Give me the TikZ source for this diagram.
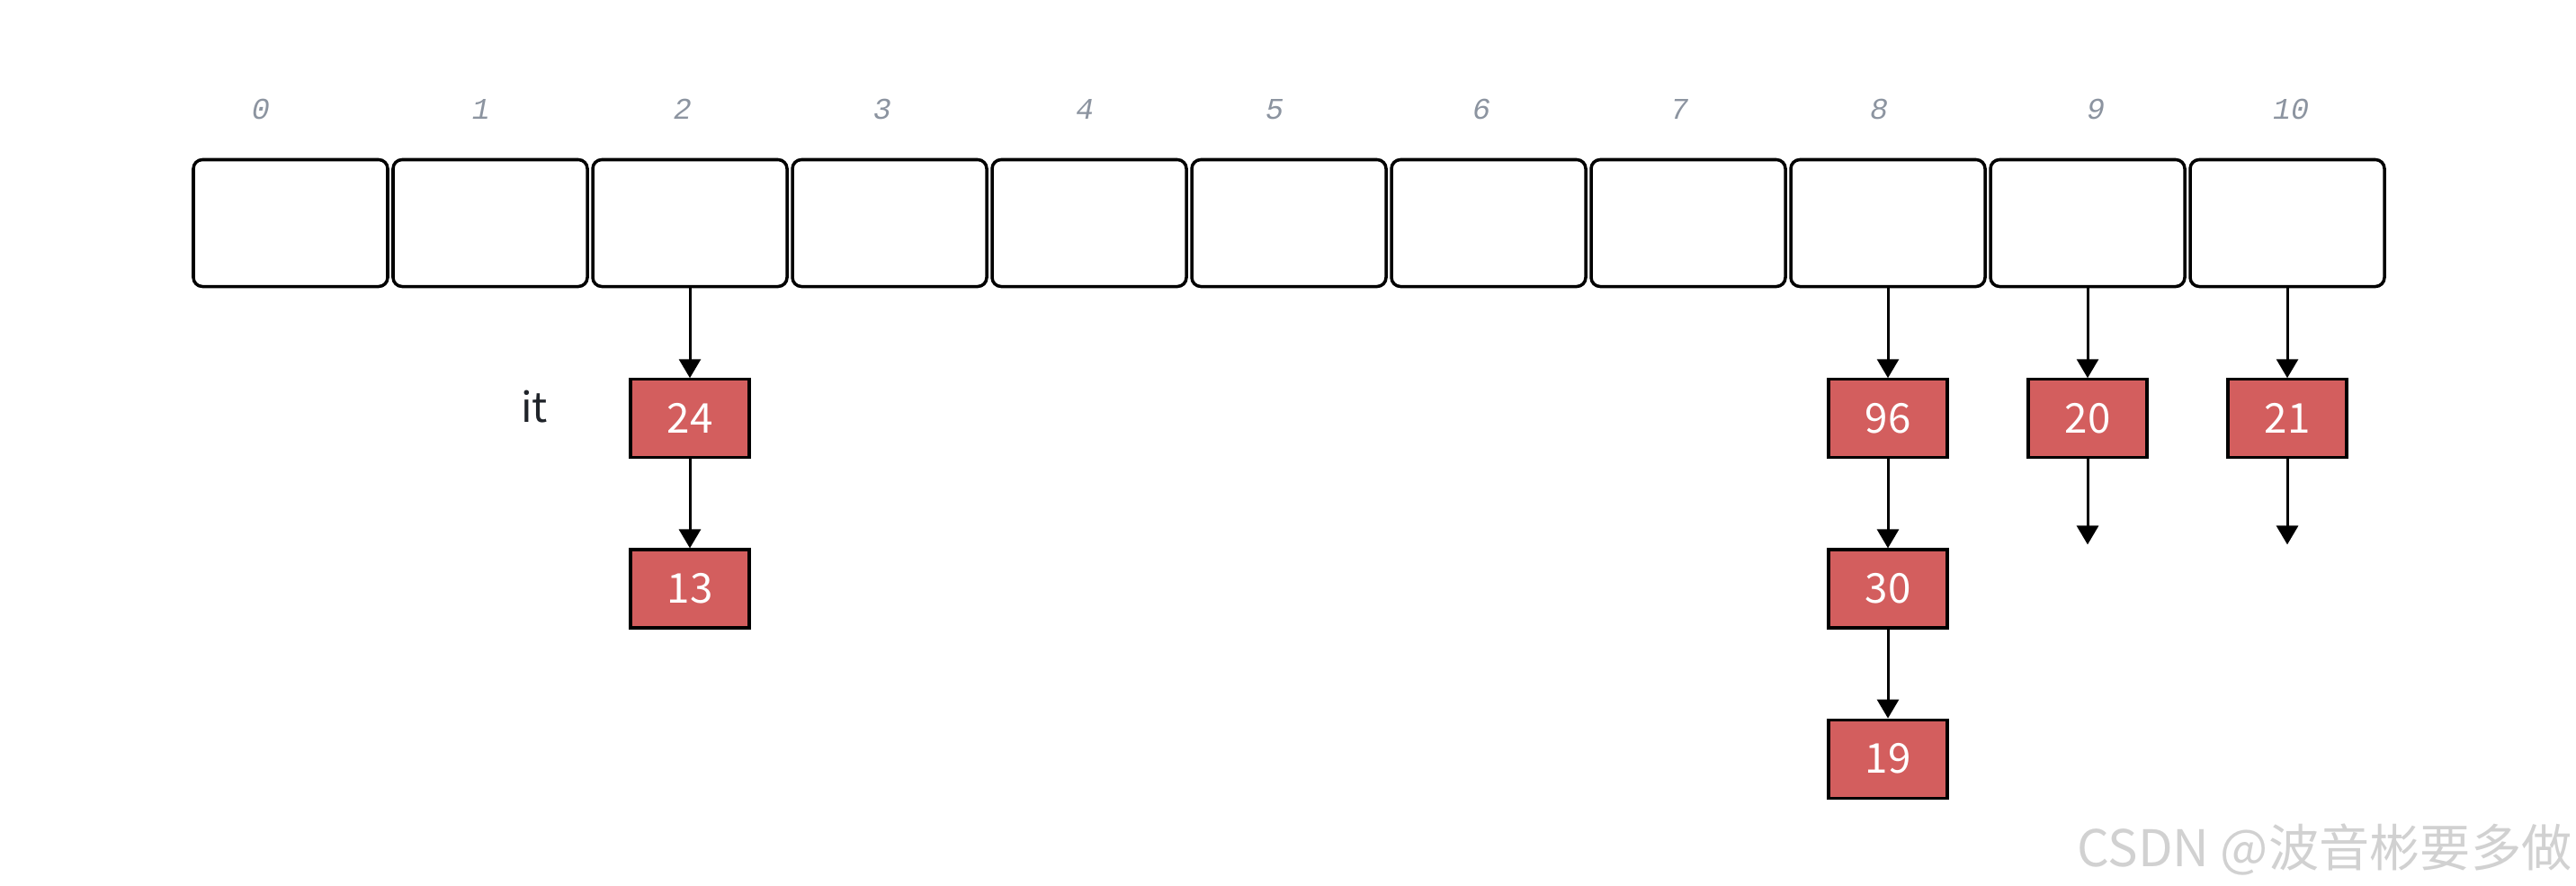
\documentclass[tikz,border=0pt]{standalone}
\usepackage{fontspec}
\setmainfont{Noto Sans CJK SC}
\newfontfamily\idxfont{Liberation Mono}
\usetikzlibrary{positioning,arrows.meta}
\definecolor{itemred}{RGB}{211,94,94}
\definecolor{idxgray}{RGB}{140,148,160}
\definecolor{textdark}{RGB}{31,35,41}
\tikzset{
	bucket/.style={draw,line width=1pt,rounded corners=0.1cm,minimum width=2.16cm,minimum height=1.41cm,inner sep=0},
	idx/.style={font=\idxfont\itshape\fontsize{9.5}{9.5}\selectfont,text=idxgray,inner sep=0},
	item/.style={draw,line width=0.9pt,fill=itemred,text=white,minimum width=1.32cm,minimum height=0.87cm,inner sep=0,font=\fontsize{13}{13}\selectfont},
	link/.style={line width=0.85pt,-{Triangle[length=0.21cm,width=0.24cm]}}
}
\begin{document}
\begin{tikzpicture}
		\useasboundingbox (0,0) rectangle (28.64,-9.84);
		% buckets and their indices
		\foreach \i/\dx in {0/-0.33,
							1/-0.10,
							2/-0.08,
							3/-0.08,
							4/-0.05,
							5/-0.16,
							6/-0.08,
							7/-0.10,
							8/-0.10,
							9/0.09,
							10/0.04}
		{\node[bucket] (b\i) at (3.23+2.22*\i,-2.48) {};
		\node[idx] (l\i) at ([xshift=\dx cm,yshift=0.54cm]b\i.north) {\i};}
		% chained entries
		\node[item,below=1cm of b2] (n24) {24};
		\node[item,below=0.99cm of n24] (n13) {13};
		\node[item,below=1cm of b8] (n96) {96};
		\node[item,below=0.99cm of n96] (n30) {30};
		\node[item,below=0.99cm of n30] (n19) {19};
		\node[item,below=1cm of b9] (n20) {20};
		\node[item,below=1cm of b10] (n21) {21};
		\coordinate[below=0.95cm of n20] (e20);
		\coordinate[below=0.95cm of n21] (e21);
		\node[anchor=base,text=textdark,font=\fontsize{13}{13}\selectfont] (it) at (5.94,-4.69) {it};
		\foreach \a/\b in {b2/n24,n24/n13,b8/n96,n96/n30,n30/n19,b9/n20,b10/n21,n20/e20,n21/e21}
		\draw[link] (\a) -- (\b);
		\node[anchor=base east,text=black!18,font=\fontsize{16}{16}\selectfont] (mark) at (28.72,-9.63) {CSDN @波音彬要多做};
\end{tikzpicture}
\end{document}
